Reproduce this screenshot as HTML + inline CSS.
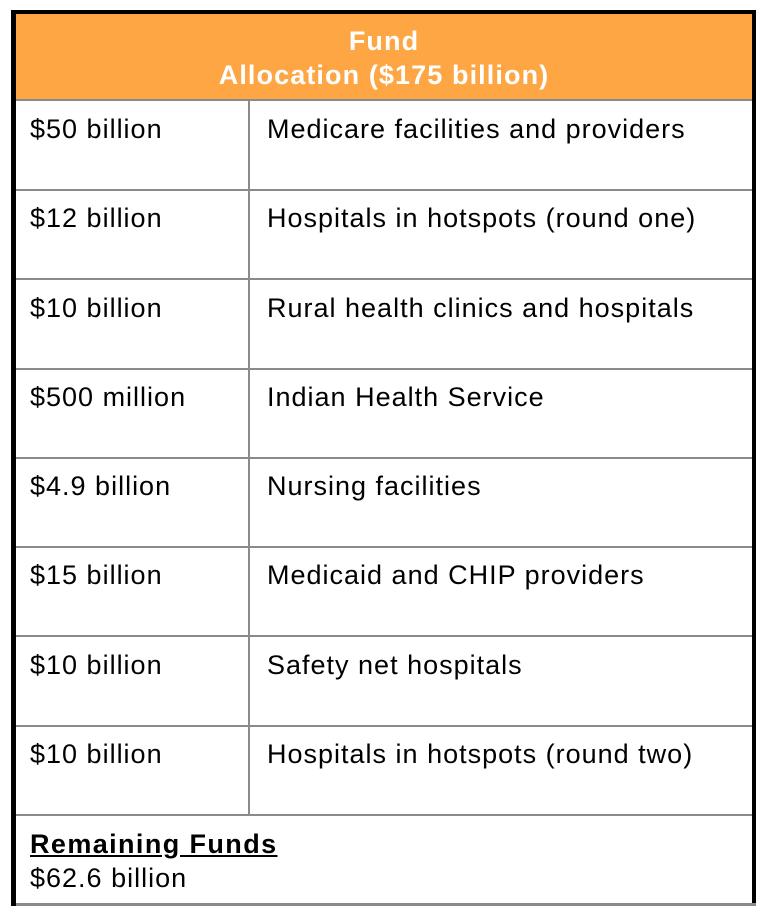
<!DOCTYPE html>
<html><head><style>
body{margin:0;width:768px;height:921px;background:#fff;position:relative;font-family:"Liberation Sans",Arial,sans-serif;overflow:hidden}
.a{position:absolute}
.t{position:absolute;font-size:27px;letter-spacing:1px;color:#000;white-space:nowrap;line-height:30px}
.h{position:absolute;width:736px;height:2px;background:#8a8a8a;left:16px}
</style></head><body>
<div class="a" style="left:11px;top:10px;width:745px;height:896px;background:#000"></div>
<div class="a" style="left:16px;top:14px;width:736px;height:889px;background:#fff"></div>
<div class="a" style="left:16px;top:14px;width:736px;height:85px;background:#fea643"></div>
<div class="a" style="left:16px;top:903px;width:740px;height:3px;background:#8a8a8a"></div>
<div class="h" style="top:99px"></div>
<div class="h" style="top:189px"></div>
<div class="h" style="top:278px"></div>
<div class="h" style="top:368px"></div>
<div class="h" style="top:457px"></div>
<div class="h" style="top:546px"></div>
<div class="h" style="top:635px"></div>
<div class="h" style="top:725px"></div>
<div class="h" style="top:814px"></div>
<div class="a" style="left:248px;top:101px;width:2px;height:714px;background:#8a8a8a"></div>
<div class="t" style="left:16px;width:736px;top:24px;text-align:center;color:#fff;font-weight:bold;line-height:34px;letter-spacing:1.1px">Fund<br>Allocation ($175 billion)</div>
<div class="t" style="left:30px;top:114px">$50 billion</div><div class="t" style="left:267px;top:114px">Medicare facilities and providers</div>
<div class="t" style="left:30px;top:203px">$12 billion</div><div class="t" style="left:267px;top:203px">Hospitals in hotspots (round one)</div>
<div class="t" style="left:30px;top:293px">$10 billion</div><div class="t" style="left:267px;top:293px">Rural health clinics and hospitals</div>
<div class="t" style="left:30px;top:382px">$500 million</div><div class="t" style="left:267px;top:382px">Indian Health Service</div>
<div class="t" style="left:30px;top:471px">$4.9 billion</div><div class="t" style="left:267px;top:471px">Nursing facilities</div>
<div class="t" style="left:30px;top:560px">$15 billion</div><div class="t" style="left:267px;top:560px">Medicaid and CHIP providers</div>
<div class="t" style="left:30px;top:650px">$10 billion</div><div class="t" style="left:267px;top:650px">Safety net hospitals</div>
<div class="t" style="left:30px;top:739px">$10 billion</div><div class="t" style="left:267px;top:739px">Hospitals in hotspots (round two)</div>
<div class="t" style="left:30px;top:829px;font-weight:bold;text-decoration:underline;letter-spacing:1.4px">Remaining Funds</div>
<div class="t" style="left:30px;top:863px">$62.6 billion</div>
</body></html>
